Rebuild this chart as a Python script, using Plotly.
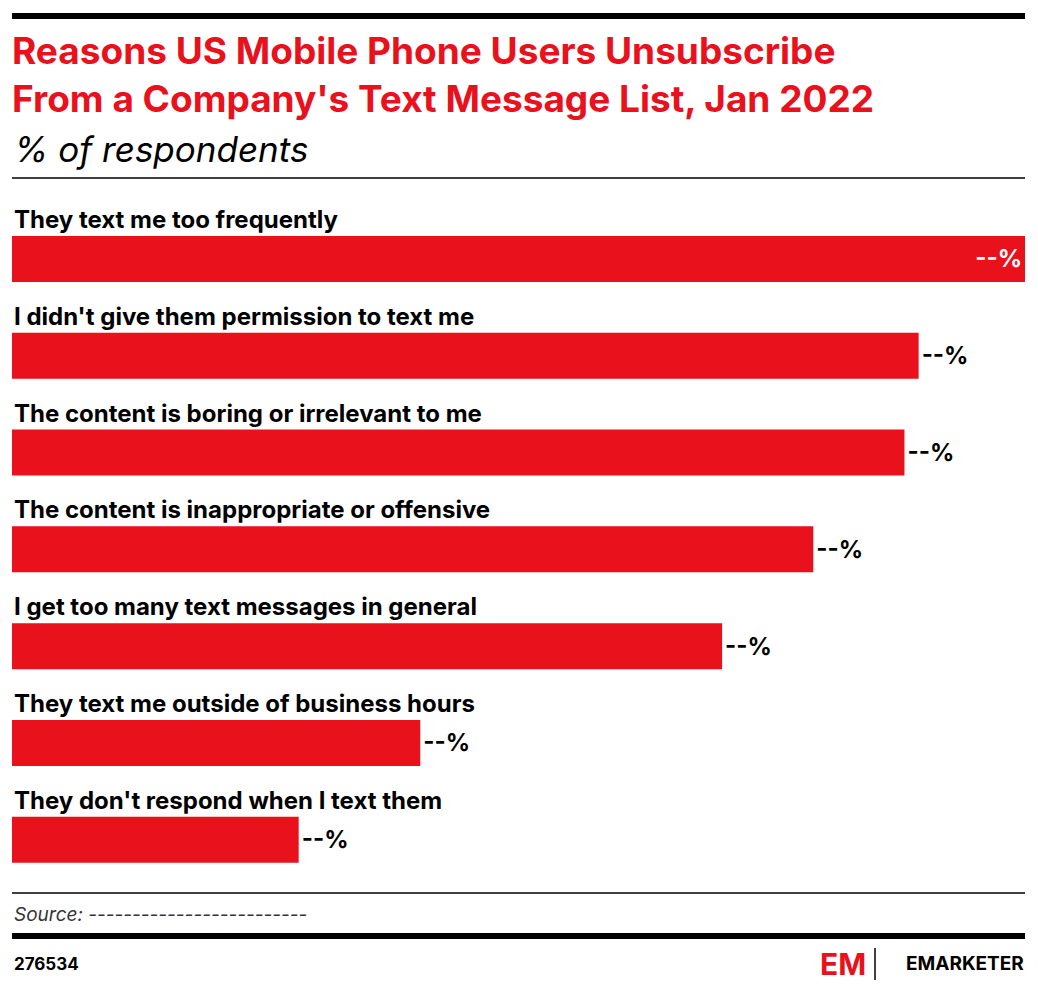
import plotly.graph_objects as go

categories = ["They text me too frequently", "I didn't give them permission to text me",
              "The content is boring or irrelevant to me", "The content is inappropriate or offensive",
              "I get too many text messages in general", "They text me outside of business hours",
              "They don't respond when I text them"]
values = [100, 89.5, 88.1, 79.1, 70.1, 40.3, 28.3]
value_labels = ["--%"] * 7

O = 8  # page body offset
W, H = 1038 - O, 993 - O
T, B, L, R = 179 - O, 875 - O, 12 - O, 1025 - O
def xp(px): return (px - O - L) / (R - L)
def yp(py): return (B - (py - O)) / (B - T)

ypos = list(range(len(categories)))
fig = go.Figure(go.Bar(
    x=values, y=ypos, orientation="h", width=0.475,
    marker=dict(color="#E8111C", line=dict(width=0)),
    text=["<b>" + v + "</b>" for v in value_labels],
    textposition=["inside"] + ["outside"] * 6,
    insidetextanchor="end",
    textfont=dict(family="Inter", size=24, color=["white"] + ["black"] * 6),
    cliponaxis=False, hoverinfo="skip"))

ann = []
for i, c in enumerate(categories):
    ann.append(dict(x=0, y=i, xref="x", yref="y", text="<b>" + c + "</b>", showarrow=False, xanchor="left",
                    yanchor="bottom", yshift=23, font=dict(family="Inter", size=24, color="black")))
ann += [
    dict(x=xp(10), y=yp(26), text="<b>Reasons US Mobile Phone Users Unsubscribe<br>From a Company's Text Message List, Jan 2022</b>",
         xref="paper", yref="paper", xanchor="left", yanchor="top", align="left", showarrow=False,
         font=dict(family="Inter", size=37, color="#E8111C")),
    dict(x=xp(12), y=yp(126), text="<i>% of respondents</i>", xref="paper", yref="paper",
         xanchor="left", yanchor="top", showarrow=False, font=dict(family="Inter", size=35, color="black")),
    dict(x=xp(12), y=yp(914), text="<i>Source: -------------------------</i>", xref="paper", yref="paper",
         xanchor="left", yanchor="middle", showarrow=False, font=dict(family="Inter", size=19, color="#333")),
    dict(x=xp(12), y=yp(964), text="<b>276534</b>", xref="paper", yref="paper",
         xanchor="left", yanchor="middle", showarrow=False, font=dict(family="Inter", size=17, color="black")),
    dict(x=xp(868), y=yp(964), text="<b>EM</b>", xref="paper", yref="paper",
         xanchor="right", yanchor="middle", showarrow=False, font=dict(family="Inter", size=30, color="#E8111C")),
    dict(x=xp(1026), y=yp(964), text="<b>EMARKETER</b>", xref="paper", yref="paper",
         xanchor="right", yanchor="middle", showarrow=False, font=dict(family="Inter", size=19, color="black")),
]
shapes = [
    dict(type="line", xref="paper", yref="paper", x0=xp(12), x1=xp(1025), y0=yp(16), y1=yp(16), line=dict(color="black", width=6)),
    dict(type="line", xref="paper", yref="paper", x0=xp(12), x1=xp(1025), y0=yp(178), y1=yp(178), line=dict(color="black", width=1.5)),
    dict(type="line", xref="paper", yref="paper", x0=xp(12), x1=xp(1025), y0=yp(893), y1=yp(893), line=dict(color="black", width=1.5)),
    dict(type="line", xref="paper", yref="paper", x0=xp(12), x1=xp(1025), y0=yp(936), y1=yp(936), line=dict(color="black", width=6)),
    dict(type="line", xref="paper", yref="paper", x0=xp(875), x1=xp(875), y0=yp(948), y1=yp(980), line=dict(color="black", width=1.5)),
]
fig.update_layout(
    width=W, height=H, margin=dict(l=L, r=W - R, t=T, b=H - B),
    paper_bgcolor="white", plot_bgcolor="white", showlegend=False,
    xaxis=dict(range=[0, 100], visible=False, fixedrange=True),
    yaxis=dict(range=[6.364, -0.826], visible=False, fixedrange=True),
    annotations=ann, shapes=shapes, font=dict(family="Inter"))
fig.write_html("out.html")
